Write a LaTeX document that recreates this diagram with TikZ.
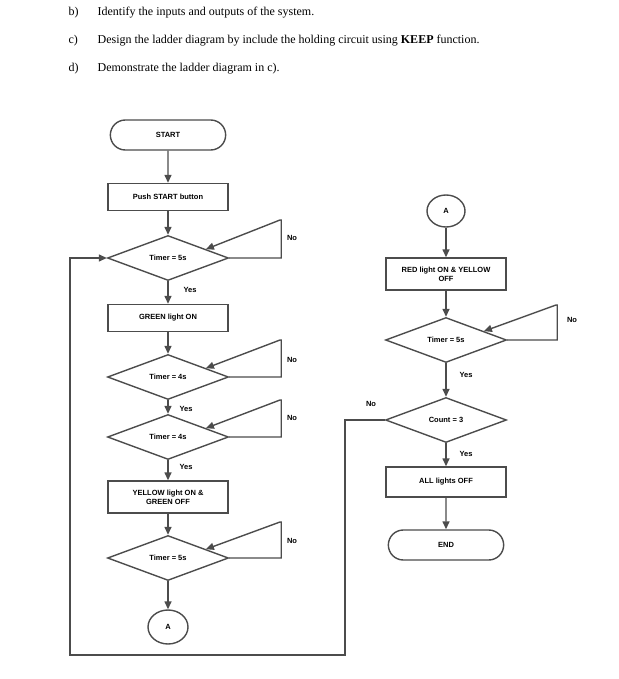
\documentclass[tikz,border=0pt]{standalone}
\usepackage{fontspec}
\setmainfont{Liberation Serif}
\newfontfamily\fsans{Liberation Sans}
\usetikzlibrary{shapes.geometric,shapes.misc,arrows.meta,calc}
\begin{document}
\begin{tikzpicture}[x=1pt,y=-1pt,
  line width=1.3pt,
  every node/.style={font=\fsans\bfseries\fontsize{7.5}{9}\selectfont},
  ln/.style={draw=black!70,line width=1.4pt},
  arr/.style={ln,-{Triangle[length=8pt,width=7pt]}},
  box/.style={ln,rectangle,minimum width=120pt,minimum height=27pt,align=center,inner sep=1pt},
  term/.style={ln,rounded rectangle,minimum width=122pt,minimum height=30pt},
  dec/.style={ln,diamond,minimum width=121pt,minimum height=45pt,inner sep=0pt},
  conn/.style={ln,ellipse,minimum width=40pt,minimum height=34pt,inner sep=0pt},
  lab/.style={inner sep=0pt},
  hd/.style={anchor=base west,font=\fontsize{12}{14}\selectfont,inner sep=0pt}]
\useasboundingbox (0,0) rectangle (618,679);
% header
\node[hd] (hb) at (68,16) {b)};
\node[hd] (tb) at (97,16) {Identify the inputs and outputs of the system.};
\node[hd] (hc) at (68,44) {c)};
\node[hd] (tc) at (97,44) {Design the ladder diagram by include the holding circuit using \textbf{KEEP} function.};
\node[hd] (hd) at (68,72) {d)};
\node[hd] (td) at (97,72) {Demonstrate the ladder diagram in c).};
% left column
\node[term] (start) at (168,135) {START};
\node[box] (push) at (168,197) {Push START button};
\node[dec] (d1) at (168,258) {Timer = 5s};
\node[box] (green) at (168,318) {GREEN light ON};
\node[dec] (d2) at (168,377) {Timer = 4s};
\node[dec] (d3) at (168,437) {Timer = 4s};
\node[box,minimum height=32pt] (yellow) at (168,497) {YELLOW light ON \&\\GREEN OFF};
\node[dec] (d4) at (168,558) {Timer = 5s};
\node[conn] (aL) at (168,627) {A};
% right column
\node[conn,minimum width=38pt,minimum height=32pt] (aR) at (446,211) {A};
\node[box,minimum height=32pt] (red) at (446,274) {RED light ON \& YELLOW\\OFF};
\node[dec] (d5) at (446,340) {Timer = 5s};
\node[dec] (d6) at (446,420) {Count = 3};
\node[box,minimum height=30pt] (all) at (446,482) {ALL lights OFF};
\node[term] (end) at (446,545) {END};
% main arrows
\draw[arr] (start) -- (push);
\draw[arr] (push) -- (d1);
\draw[arr] (d1) -- (green);
\draw[arr] (green) -- (d2);
\draw[arr] (d2) -- (d3);
\draw[arr] (d3) -- (yellow);
\draw[arr] (yellow) -- (d4);
\draw[arr] (d4) -- (aL);
\draw[arr] (aR) -- (red);
\draw[arr] (red) -- (d5);
\draw[arr] (d5) -- (d6);
\draw[arr] (d6) -- (all);
\draw[arr] (all) -- (end);
% No loops
\foreach \d/\t in {d1/220,d2/340,d3/400,d4/522}{
  \draw[arr] (\d.east) -- ++(52,0) |- (280,\t) -- ($(\d.north)!0.62!(\d.east)$);
}
\draw[arr] (d5.east) -- ++(50,0) |- (556,305) -- ($(d5.north)!0.62!(d5.east)$);
% feedback
\draw[arr] (d6.west) -- (345,420) |- (70,655) |- (d1.west);
% labels
\node[lab] (n1) at (292,238) {No};
\node[lab] (n2) at (292,360) {No};
\node[lab] (n3) at (292,418) {No};
\node[lab] (n4) at (292,541) {No};
\node[lab] (n5) at (572,320) {No};
\node[lab] (n6) at (371,404) {No};
\node[lab] (y1) at (190,290) {Yes};
\node[lab] (y2) at (186,409) {Yes};
\node[lab] (y3) at (186,467) {Yes};
\node[lab] (y4) at (466,375) {Yes};
\node[lab] (y5) at (466,454) {Yes};
\end{tikzpicture}
\end{document}
